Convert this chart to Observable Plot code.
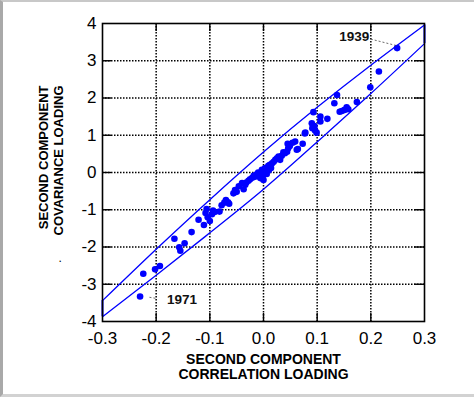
<!DOCTYPE html>
<html>
<head>
<meta charset="utf-8">
<script src="https://cdn.jsdelivr.net/npm/d3@7"></script>
<script src="https://cdn.jsdelivr.net/npm/@observablehq/plot@0.6"></script>
<style>
  html, body { margin: 0; padding: 0; background: #fff; }
  #wrap { position: relative; width: 474px; height: 397px; overflow: hidden; }
  #border { position: absolute; left: 0; top: 0; width: 474px; height: 397px; box-sizing: border-box;
            border-top: 2px solid #c8c8c8; border-left: 3px solid #a9a9a9; border-bottom: 3px solid #d2d2d2;
            pointer-events: none; }
</style>
</head>
<body>
<div id="wrap"><div id="border"></div></div>
<script>
// ---- axis ticks ----
const xTicks = [-0.3, -0.2, -0.1, 0, 0.1, 0.2, 0.3];
const xTickLabels = ["-0.3", "-0.2", "-0.1", "0.0", "0.1", "0.2", "0.3"];
const yTicks = [-4, -3, -2, -1, 0, 1, 2, 3, 4];
const yTickLabels = ["-4", "-3", "-2", "-1", "0", "1", "2", "3", "4"];

// ---- envelope (band) curves ----
const bandX     = [-0.3, -0.2, -0.1, 0.0, 0.1, 0.2, 0.3];
const bandUpper = [-3.44, -2.06, -0.73, 0.55, 1.75, 2.88, 3.96];
const bandLower = [-3.87, -2.76, -1.62, -0.45, 0.82, 2.12, 3.46];

// ---- loadings (scatter points) ----
const ptX = [-0.230, -0.224, -0.202, -0.193, -0.166, -0.157, -0.155, -0.147, -0.134, -0.121,
             -0.111, -0.108, -0.104, -0.100, -0.106, -0.094, -0.096, -0.091, -0.082, -0.078,
             -0.073, -0.070, -0.066, -0.064, -0.056, -0.053, -0.050, -0.046, -0.040, -0.037,
             -0.034, -0.032, -0.028, -0.025, -0.021, -0.018, -0.015, -0.012, -0.010, -0.009,
             -0.006, -0.004, -0.003, -0.002, 0.000, 0.000, 0.002, 0.003, 0.004, 0.006,
             0.007, 0.009, 0.010, 0.012, 0.014, 0.016, 0.019, 0.022, 0.025, 0.028,
             0.031, 0.034, 0.037, 0.040, 0.044, 0.045, 0.046, 0.049, 0.054, 0.059,
             0.062, 0.064, 0.073, 0.077, 0.078, 0.090, 0.091, 0.093, 0.095, 0.096,
             0.099, 0.106, 0.106, 0.119, 0.132, 0.137, 0.142, 0.146, 0.151, 0.155,
             0.158, 0.174, 0.199, 0.215, 0.249];
const ptY = [-3.33, -2.72, -2.60, -2.51, -1.78, -2.01, -2.10, -1.90, -1.60, -1.27,
             -1.41, -1.09, -1.20, -1.30, -0.98, -1.02, -1.12, -1.06, -1.05, -0.88,
             -0.81, -0.74, -0.80, -0.84, -0.56, -0.47, -0.52, -0.37, -0.28, -0.45,
             -0.33, -0.27, -0.22, -0.18, -0.14, -0.08, -0.11, -0.04, 0.00, -0.02,
             -0.15, -0.08, 0.07, -0.12, -0.06, -0.20, 0.00, 0.12, 0.02, -0.04,
             0.10, 0.18, 0.06, 0.21, 0.12, 0.25, 0.29, 0.34, 0.38, 0.43,
             0.34, 0.45, 0.54, 0.52, 0.56, 0.77, 0.65, 0.71, 0.80, 0.83,
             0.61, 0.63, 0.77, 1.05, 1.07, 1.32, 1.19, 1.62, 1.25, 1.13,
             1.07, 1.37, 1.50, 1.44, 1.86, 2.08, 1.63, 1.65, 1.68, 1.75,
             1.70, 1.89, 2.29, 2.71, 3.34];

// ---- year annotations ----
const noteText = ["1939", "1971"];
const noteX = [0.197, -0.180];
const noteY = [3.65, -3.42];
const noteAnchor = ["end", "start"];
const leaderX1 = [0.200, -0.2125];
const leaderY1 = [3.58, -3.35];
const leaderX2 = [0.2497, -0.200];
const leaderY2 = [3.40, -3.38];

// ---- axis titles ----
const xTitle = "SECOND COMPONENT\nCORRELATION LOADING";
const yTitle = "SECOND COMPONENT\nCOVARIANCE LOADING";

// build tables
const points = ptX.map((x, i) => ({x, y: ptY[i]}));
const upper = bandX.map((x, i) => ({x, y: bandUpper[i]}));
const lower = bandX.map((x, i) => ({x, y: bandLower[i]}));
const last = bandX.length - 1;
const ends = [
  {x: bandX[0], y1: bandLower[0], y2: bandUpper[0]},
  {x: bandX[last], y1: bandLower[last], y2: bandUpper[last]}
];
const notes = noteText.map((t, i) => ({t, x: noteX[i], y: noteY[i], a: noteAnchor[i]}));
const leaders = leaderX1.map((x1, i) => ({x1, y1: leaderY1[i], x2: leaderX2[i], y2: leaderY2[i]}));
const innerX = xTicks.slice(1, -1);
const innerY = yTicks.slice(1, -1);

const W = 474, H = 397;
const mL = 102, mR = 50, mT = 23, mB = 76;
const innerW = W - mL - mR, innerH = H - mT - mB;
const blue = "#0000ff";

const noteMarks = ["start", "end"].map(a =>
  Plot.text(notes.filter(d => d.a === a), {x: "x", y: "y", text: "t", textAnchor: a,
    fontSize: 13.5, fontWeight: "bold", fill: "#111"}));

const chart = Plot.plot({
  width: W, height: H,
  marginLeft: mL, marginRight: mR, marginTop: mT, marginBottom: mB,
  style: {fontFamily: "'Liberation Sans', Arial, sans-serif", fontSize: "17px", color: "#000", background: "transparent", overflow: "visible"},
  x: {domain: [xTicks[0], xTicks[xTicks.length - 1]], ticks: xTicks,
      tickFormat: d => xTickLabels[xTicks.indexOf(d)], tickSize: 0, tickPadding: 10, label: null},
  y: {domain: [yTicks[0], yTicks[yTicks.length - 1]], ticks: yTicks,
      tickFormat: d => yTickLabels[yTicks.indexOf(d)], tickSize: 0, tickPadding: 6, label: null},
  marks: [
    // dotted grid
    Plot.ruleX(innerX, {stroke: "#000", strokeWidth: 1.5, strokeDasharray: "1.5,1.5"}),
    Plot.ruleY(innerY, {stroke: "#000", strokeWidth: 1.5, strokeDasharray: "1.5,1.5"}),
    // inward ticks on all four sides
    Plot.ruleX(innerX, {stroke: "#000", strokeWidth: 1.4, insetTop: innerH - 8}),
    Plot.ruleX(innerX, {stroke: "#000", strokeWidth: 1.4, insetBottom: innerH - 8}),
    Plot.ruleY(innerY, {stroke: "#000", strokeWidth: 1.4, insetRight: innerW - 9}),
    Plot.ruleY(innerY, {stroke: "#000", strokeWidth: 1.4, insetLeft: innerW - 10}),
    // envelope
    Plot.line(upper, {x: "x", y: "y", stroke: blue, strokeWidth: 1.3, curve: "natural"}),
    Plot.line(lower, {x: "x", y: "y", stroke: blue, strokeWidth: 1.3, curve: "natural"}),
    Plot.ruleX(ends, {x: "x", y1: "y1", y2: "y2", stroke: blue, strokeWidth: 2}),
    // points
    Plot.dot(points, {x: "x", y: "y", r: 3.3, fill: blue, stroke: "none"}),
    // annotations
    Plot.link(leaders, {x1: "x1", y1: "y1", x2: "x2", y2: "y2", stroke: "#444", strokeWidth: 0.8, strokeDasharray: "2,2"}),
    ...noteMarks,
    // frame
    Plot.frame({stroke: "#000", strokeWidth: 1.6}),
    // axis titles
    Plot.text([xTitle], {frameAnchor: "bottom", text: d => d, dy: 45, lineAnchor: "middle", lineHeight: 1.07,
                         fontSize: 14, fontWeight: "bold", fill: "#000"}),
    Plot.text([yTitle], {frameAnchor: "top-left", text: d => d, dx: -51.5, dy: 62, rotate: -90, textAnchor: "end",
                         lineAnchor: "middle", lineHeight: 1.15, fontSize: 13, fontWeight: "bold", fill: "#000"}),
    Plot.text(["."], {frameAnchor: "left", text: d => d, dx: -44, dy: 86, fontSize: 12, fill: "#000"})
  ]
});
document.getElementById("wrap").insertBefore(chart, document.getElementById("border"));
</script>
</body>
</html>
